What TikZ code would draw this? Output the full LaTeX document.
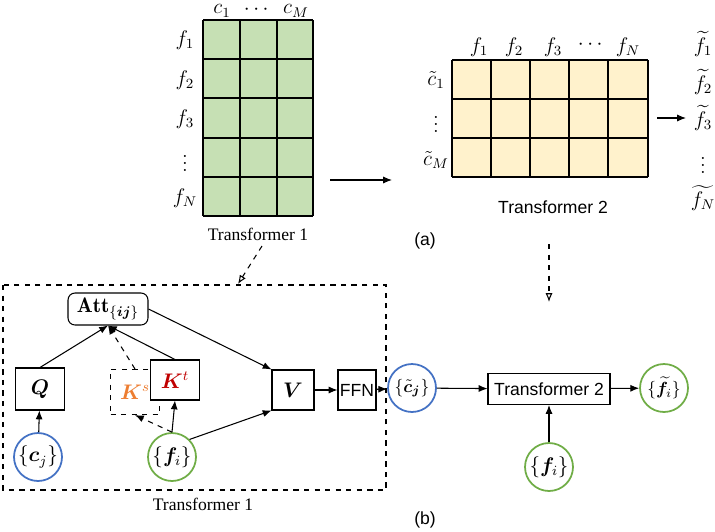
\documentclass[tikz,border=0pt]{standalone}
\usepackage{amsmath,bm}
\usepackage{fontspec}
\newfontfamily\sans{Liberation Sans}
\newfontfamily\serif{Liberation Serif}
\usetikzlibrary{arrows.meta}
\definecolor{gridgreen}{HTML}{C6E0B4}
\definecolor{gridyellow}{HTML}{FFF2CC}
\definecolor{cblue}{HTML}{4472C4}
\definecolor{cgreen}{HTML}{70AD47}
\definecolor{korange}{HTML}{ED7D31}
\definecolor{kred}{HTML}{C00000}
\begin{document}
\begin{tikzpicture}[x=0.02cm,y=-0.02cm,
  box/.style={draw,line width=0.6pt,minimum width=#1,minimum height=0.84cm,inner sep=1pt,font=\large},
  box/.default=0.98cm,
  circ/.style={draw,circle,line width=1pt,minimum size=0.96cm,inner sep=0pt,font=\large},
  arr/.style={-{Latex[length=5pt,width=4pt]},line width=0.6pt},
  darr/.style={arr,dashed},
  lab/.style={inner sep=0.5pt,font=\large},
  txt/.style={inner sep=1pt}]
\useasboundingbox (0,0) rectangle (715,531);
% ---- (a) top: Transformer 1 grid
\fill[gridgreen] (203,20) rectangle (313,216);
\foreach \x in {203,240,277,313} \draw[line width=0.6pt] (\x,20) -- (\x,216);
\foreach \y in {20,59,98,138,177,216} \draw[line width=0.6pt] (203,\y) -- (313,\y);
\node[lab] at (222,11) {$c_1$};
\node[lab] at (258,10) {$\cdots$};
\node[lab] at (296,11) {$c_M$};
\node[lab] at (185,40) {$f_1$};
\node[lab] at (185,80) {$f_2$};
\node[lab] at (185,119) {$f_3$};
\node[lab] at (185,158) {$\vdots$};
\node[lab] at (185,198) {$f_N$};
\node[txt] (t1a) at (258,234) {\serif Transformer 1};
% arrow between grids
\coordinate (ga) at (330,180);
\coordinate (gb) at (392,180);
\draw[arr] (ga) -- (gb);
% ---- Transformer 2 grid
\fill[gridyellow] (452,60) rectangle (648,177);
\foreach \x in {452,491,530,569,608,648} \draw[line width=0.6pt] (\x,60) -- (\x,177);
\foreach \y in {60,99,138,177} \draw[line width=0.6pt] (452,\y) -- (648,\y);
\node[lab] at (479,47) {$f_1$};
\node[lab] at (514,47) {$f_2$};
\node[lab] at (553,47) {$f_3$};
\node[lab] at (592,45) {$\cdots$};
\node[lab] at (628,47) {$f_N$};
\node[lab] at (436,80) {$\tilde{c}_1$};
\node[lab] at (436,119) {$\vdots$};
\node[lab] at (436,160) {$\tilde{c}_M$};
\node[txt] (t2a) at (553,207) {\sans Transformer 2};
\coordinate (gc) at (657,118);
\coordinate (gd) at (686,118);
\draw[arr] (gc) -- (gd);
\node[lab] at (703,44) {$\widetilde{f_1}$};
\node[lab] at (703,82) {$\widetilde{f_2}$};
\node[lab] at (703,118) {$\widetilde{f_3}$};
\node[lab] at (703,160) {$\vdots$};
\node[lab] at (703,198) {$\widetilde{f_N}$};
\node[txt] at (425,241) {\sans (a)};
% ---- (b) bottom
\draw[dashed,line width=0.6pt] (3,285) rectangle (386,490);
\node[txt] at (203,504) {\serif Transformer 1};
\coordinate (d1) at (262,246);
\coordinate (d2) at (238,284);
\draw[darr,-{Latex[open,length=5pt,width=4pt]}] (d1) -- (d2);
\coordinate (d3) at (549,244);
\coordinate (d4) at (549,302);
\draw[darr,-{Latex[open,length=5pt,width=4pt]}] (d3) -- (d4);
\node[box=1.6cm,minimum height=0.64cm,rounded corners=4pt] (att) at (108,309) {$\mathbf{Att}_{\{\bm{ij}\}}$};
\node[box] (q) at (40,389) {$\bm{Q}$};
\node[box,dashed,minimum height=0.9cm] (ks) at (135,392) {\textcolor{korange}{$\bm{K}^{s}$}};
\node[box,fill=white,minimum height=0.8cm] (kt) at (175,380) {\textcolor{kred}{$\bm{K}^{t}$}};
\node[box=0.84cm,minimum height=0.8cm] (v) at (293,390) {$\bm{V}$};
\node[box=0.76cm,minimum height=0.8cm,font=\normalsize] (ffn) at (357,390) {\sans FFN};
\node[circ,cblue] (cj) at (38,457) {\textcolor{black}{$\{\bm{c}_j\}$}};
\node[circ,cgreen] (fi) at (172,457) {\textcolor{black}{$\{\bm{f}_i\}$}};
\node[circ,cblue,font=\normalsize] (ctj) at (412,388) {\textcolor{black}{$\{\tilde{\bm{c}}_{\bm{j}}\}$}};
\node[box=2.44cm,minimum height=0.62cm,font=\normalsize] (t2b) at (549,389) {\sans Transformer 2};
\node[circ,cgreen,font=\normalsize] (fti) at (664,388) {\textcolor{black}{$\{\widetilde{\bm{f}}_i\}$}};
\node[circ,cgreen] (fi2) at (549,467) {\textcolor{black}{$\{\bm{f}_i\}$}};
\node[txt] at (425,520) {\sans (b)};
% connectors
\draw[arr] (cj) -- (q);
\draw[arr] (q.north) -- (att.south);
\draw[arr] (kt.north) -- (att.south);
\draw[darr] (ks.north) -- (att.south);
\draw[arr] (fi.north) -- (kt.south);
\draw[darr] (fi.north) -- (ks.south);
\draw[arr] (fi.north east) -- (v.south west);
\draw[arr] (att.east) -- (v.north west);
\draw[arr] (v) -- (ffn);
\draw[arr] (ffn) -- (ctj);
\draw[arr] (ctj) -- (t2b);
\draw[arr] (t2b) -- (fti);
\draw[arr] (fi2) -- (t2b);
\end{tikzpicture}
\end{document}
